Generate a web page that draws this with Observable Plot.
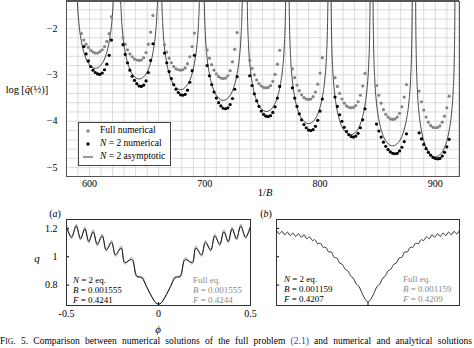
<!DOCTYPE html>
<html><head><meta charset="utf-8">
<script src="https://cdn.jsdelivr.net/npm/d3@7"></script>
<script src="https://cdn.jsdelivr.net/npm/@observablehq/plot@0.6"></script>
<style>
html,body{margin:0;padding:0;background:#fff;}
#root{position:relative;width:474px;height:348px;overflow:hidden;font-family:"Liberation Serif","DejaVu Serif",serif;color:#000;}
#root svg{position:absolute;overflow:visible;font-family:"Liberation Serif",serif !important;}
#root svg g, #root svg text{font-family:"Liberation Serif",serif !important;font-variant:normal !important;}
.t{position:absolute;white-space:nowrap;line-height:1;}
.c{transform:translate(-50%,-50%);}
.l{transform:translate(0,-50%);}
i{font-style:italic;}
</style></head><body><div id="root"></div>
<script>
// ---------- top panel: log q(1/2) vs 1/B ----------
const xTicks = [600, 700, 800, 900];
const yTicks = [-5, -4, -3, -2];
// asymptotic (N = 2) branches, one array per branch
const asymX = [
  [587.8,588,588.5,589.5,591,593,596,600,605,610,614,617,619,620.5,621.5,622,622.2],
  [625.8,626,626.5,627.5,629,631,634,638,643,648,652,655,657,658.5,659.5,660,660.2],
  [661.8,662,662.5,663.5,665,667,670,674,679,684,688,691,693,694.5,695.5,696,696.2],
  [698.8,699,699.5,700.5,702,704,707,711,716,721,725,728,730,731.5,732.5,733,733.2],
  [736.3,736.5,737,738,739.5,741.5,744.5,748.5,753.5,758.5,762.5,765.5,767.5,769,770,770.5,770.7],
  [772.8,773,773.5,774.5,776,778,781,785,790,795,799,802,804,805.5,806.5,807,807.2],
  [809.3,809.5,810,811,812.5,814.5,817.5,821.5,826.5,831.5,835.5,838.5,840.5,842,843,843.5,843.7],
  [845.8,846,846.5,847.5,849,851,854,858,863,868,872,875,877,878.5,879.5,880,880.2],
  [882.8,883,883.5,884.5,886,888,891,895,900,905,909,912,914,915.5,916.5,917,917.2]
];
const asymY = [
  [1.64,0.34,-0.71,-1.44,-1.94,-2.29,-2.59,-2.785,-2.86,-2.785,-2.59,-2.29,-1.94,-1.44,-0.71,0.34,1.64],
  [1.41,0.11,-0.94,-1.67,-2.17,-2.52,-2.82,-3.015,-3.09,-3.015,-2.82,-2.52,-2.17,-1.67,-0.94,0.11,1.41],
  [1.18,-0.12,-1.17,-1.90,-2.40,-2.75,-3.05,-3.245,-3.32,-3.245,-3.05,-2.75,-2.40,-1.90,-1.17,-0.12,1.18],
  [0.95,-0.35,-1.40,-2.13,-2.63,-2.98,-3.28,-3.475,-3.55,-3.475,-3.28,-2.98,-2.63,-2.13,-1.40,-0.35,0.95],
  [0.71,-0.59,-1.64,-2.37,-2.87,-3.22,-3.52,-3.715,-3.79,-3.715,-3.52,-3.22,-2.87,-2.37,-1.64,-0.59,0.71],
  [0.45,-0.85,-1.90,-2.63,-3.13,-3.48,-3.78,-3.975,-4.05,-3.975,-3.78,-3.48,-3.13,-2.63,-1.90,-0.85,0.45],
  [0.21,-1.09,-2.14,-2.87,-3.37,-3.72,-4.02,-4.215,-4.29,-4.215,-4.02,-3.72,-3.37,-2.87,-2.14,-1.09,0.21],
  [-0.03,-1.33,-2.38,-3.11,-3.61,-3.96,-4.26,-4.455,-4.53,-4.455,-4.26,-3.96,-3.61,-3.11,-2.38,-1.33,-0.03],
  [-0.27,-1.57,-2.62,-3.35,-3.85,-4.20,-4.50,-4.695,-4.77,-4.695,-4.50,-4.20,-3.85,-3.35,-2.62,-1.57,-0.27]
];
// numerical points: shared 1/B positions per branch
const dotX = [
  [593,595,597,599,601,603,605,607,609,611,613,615,617,619],
  [629,631,633,635,637,639,641,643,645,647,649,651,653,655],
  [665,667,669,671,673,675,677,679,681,683,685,687,689,691],
  [702,704,706,708,710,712,714,716,718,720,722,724,726,728],
  [739,741,743,745,747,749,751,753,755,757,759,761,763,765],
  [776,778,780,782,784,786,788,790,792,794,796,798,800,802],
  [813,815,817,819,821,823,825,827,829,831,833,835,837,839],
  [849,851,853,855,857,859,861,863,865,867,869,871,873,875],
  [886,888,890,892,894,896,898,900,902,904,906,908,910,912]
];
const fullY = [
  [-2.11,-2.25,-2.34,-2.41,-2.47,-2.51,-2.53,-2.53,-2.50,-2.46,-2.39,-2.28,-2.11,-1.75],
  [-2.20,-2.34,-2.46,-2.55,-2.61,-2.66,-2.68,-2.69,-2.68,-2.63,-2.52,-2.34,-2.08,-1.72],
  [-2.35,-2.51,-2.64,-2.74,-2.82,-2.87,-2.89,-2.90,-2.89,-2.85,-2.76,-2.61,-2.39,-2.10],
  [-2.46,-2.64,-2.78,-2.90,-2.98,-3.04,-3.07,-3.08,-3.07,-3.02,-2.91,-2.72,-2.45,-2.09],
  [-2.69,-2.86,-3.00,-3.11,-3.19,-3.24,-3.27,-3.28,-3.27,-3.23,-3.14,-2.99,-2.77,-2.47],
  [-2.87,-3.06,-3.22,-3.34,-3.43,-3.49,-3.52,-3.53,-3.52,-3.47,-3.37,-3.20,-2.96,-2.63],
  [-3.06,-3.25,-3.40,-3.52,-3.61,-3.67,-3.70,-3.71,-3.70,-3.66,-3.58,-3.44,-3.24,-2.97],
  [-3.23,-3.44,-3.61,-3.75,-3.85,-3.91,-3.95,-3.96,-3.95,-3.91,-3.83,-3.69,-3.48,-3.21],
  [-3.35,-3.58,-3.76,-3.91,-4.02,-4.09,-4.13,-4.14,-4.13,-4.10,-4.02,-3.89,-3.71,-3.46]
];
const n2Y = [
  [null,-2.39,-2.55,-2.70,-2.82,-2.90,-2.95,-2.98,-2.99,-2.96,-2.89,-2.77,-2.58,-2.25],
  [-2.35,-2.56,-2.74,-2.90,-3.03,-3.12,-3.19,-3.24,-3.25,-3.22,-3.13,-2.95,-2.69,-2.33],
  [-2.53,-2.74,-2.93,-3.08,-3.21,-3.31,-3.38,-3.43,-3.44,-3.42,-3.33,-3.16,-2.91,-2.58],
  [-2.80,-3.02,-3.21,-3.37,-3.50,-3.60,-3.67,-3.72,-3.73,-3.71,-3.64,-3.51,-3.31,-3.04],
  [-3.02,-3.23,-3.41,-3.56,-3.68,-3.78,-3.85,-3.89,-3.90,-3.88,-3.81,-3.69,-3.50,-3.25],
  [-3.28,-3.50,-3.68,-3.84,-3.97,-4.07,-4.14,-4.19,-4.20,-4.18,-4.11,-3.98,-3.78,-3.52],
  [-3.48,-3.68,-3.86,-4.00,-4.13,-4.22,-4.29,-4.33,-4.34,-4.32,-4.26,-4.14,-3.97,-3.73],
  [-4.06,-4.21,-4.34,-4.45,-4.54,-4.61,-4.66,-4.69,-4.70,-4.69,-4.64,-4.56,-4.44,-4.27],
  [-4.25,-4.38,-4.50,-4.59,-4.67,-4.73,-4.78,-4.80,-4.81,-4.80,-4.75,-4.67,-4.55,-4.39]
];

// ---------- bottom panels: q(phi) ----------
const qTicks = [0.8, 1, 1.2];
const phiTicks = [-0.5, 0, 0.5];
const phiA = [-0.5,-0.473,-0.447,-0.424,-0.4,-0.379,-0.355,-0.333,-0.306,-0.284,-0.255,-0.234,-0.203,-0.183,-0.145,-0.118,-0.09,-0.065,-0.035,-0.015,0,
  0.015,0.035,0.065,0.09,0.118,0.145,0.183,0.203,0.234,0.255,0.284,0.306,0.333,0.355,0.379,0.4,0.424,0.447,0.473,0.5];
const qAn2 = [1.21,1.14,1.215,1.13,1.195,1.11,1.175,1.09,1.145,1.05,1.10,1.015,1.06,0.96,0.98,0.865,0.85,0.79,0.715,0.675,0.665,
  0.675,0.715,0.79,0.85,0.865,0.98,0.96,1.06,1.015,1.10,1.05,1.145,1.09,1.175,1.11,1.195,1.13,1.215,1.14,1.21];
const qAfull = [1.225,1.128,1.23,1.118,1.21,1.098,1.19,1.078,1.16,1.038,1.115,1.003,1.075,0.948,0.995,0.855,0.862,0.785,0.713,0.674,0.665,
  0.674,0.713,0.785,0.862,0.855,0.995,0.948,1.075,1.003,1.115,1.038,1.16,1.078,1.19,1.098,1.21,1.118,1.23,1.128,1.225];
const phiB = [-0.5,-0.485,-0.47,-0.455,-0.44,-0.425,-0.41,-0.395,-0.38,-0.365,-0.35,-0.335,-0.32,-0.305,-0.29,-0.275,-0.26,-0.245,-0.23,-0.215,-0.2,-0.185,-0.17,-0.155,-0.14,-0.125,-0.11,-0.095,-0.08,-0.065,-0.05,-0.03,-0.015,0,
  0.015,0.03,0.05,0.065,0.08,0.095,0.11,0.125,0.14,0.155,0.17,0.185,0.2,0.215,0.23,0.245,0.26,0.275,0.29,0.305,0.32,0.335,0.35,0.365,0.38,0.395,0.41,0.425,0.44,0.455,0.47,0.485,0.5];
const qB = [1.186,1.161,1.180,1.155,1.174,1.149,1.168,1.143,1.162,1.137,1.156,1.127,1.141,1.115,1.120,1.092,1.096,1.067,1.066,1.034,1.033,0.996,0.991,0.956,0.946,0.912,0.901,0.865,0.848,0.808,0.791,0.735,0.70,0.68,
  0.70,0.735,0.791,0.808,0.848,0.865,0.901,0.912,0.946,0.956,0.991,0.996,1.033,1.034,1.066,1.067,1.096,1.092,1.120,1.115,1.141,1.127,1.156,1.137,1.162,1.143,1.168,1.149,1.174,1.155,1.180,1.161,1.186];

// ---------- tables ----------
const asymT = asymX.flatMap((xs, u) => xs.map((x, i) => ({u, x, y: asymY[u][i]})));
const fullT = dotX.flatMap((xs, u) => xs.map((x, i) => ({u, x, y: fullY[u][i]})));
const n2T = dotX.flatMap((xs, u) => xs.map((x, i) => ({u, x, y: n2Y[u][i]}))).filter(d => d.y != null);
const aN2 = phiA.map((p, i) => ({p, q: qAn2[i]}));
const aFull = phiA.map((p, i) => ({p, q: qAfull[i]}));
const bN2 = phiB.map((p, i) => ({p, q: qB[i]}));

const root = document.getElementById("root");
const baseStyle = "background: transparent; font-family: 'Liberation Serif', serif; font-size: 10px; overflow: visible;";
function place(svg, left, top) { svg.style.position = "absolute"; svg.style.left = left + "px"; svg.style.top = top + "px"; root.appendChild(svg); }

const gridXv = d3.range(580, 921, 10);
const gridYv = d3.range(-26, -7).map(i => i / 5).filter(v => v >= -5.19 && v <= -1.42);

const topPlot = Plot.plot({
  width: 474, height: 200,
  marginLeft: 66, marginRight: 15, marginTop: 1, marginBottom: 24,
  x: {domain: [580, 921]},
  y: {domain: [-5.19, -1.42]},
  style: baseStyle,
  marks: [
    Plot.gridX(gridXv, {stroke: "#d2d2d2", strokeOpacity: 1, strokeWidth: 0.8}),
    Plot.gridY(gridYv, {stroke: "#d2d2d2", strokeOpacity: 1, strokeWidth: 0.8}),
    Plot.axisX({ticks: xTicks, tickSize: 0, tickPadding: 3, tickFormat: d => String(d), label: null}),
    Plot.axisY({ticks: yTicks, tickSize: 0, tickPadding: 9, tickFormat: d => "\u2212" + Math.abs(d), label: null}),
    Plot.line(asymT, {x: "x", y: "y", z: "u", stroke: "#333", strokeWidth: 0.9, curve: "monotone-x", clip: true}),
    Plot.dot(fullT, {x: "x", y: "y", r: 1.6, fill: "#858585", stroke: null}),
    Plot.dot(n2T, {x: "x", y: "y", r: 1.6, fill: "#000", stroke: null}),
    Plot.frame({stroke: "#555"})
  ]
});
place(topPlot, 0, 0);

const pa = Plot.plot({
  width: 260, height: 140,
  marginLeft: 66, marginRight: 10, marginTop: 14, marginBottom: 40,
  x: {domain: [-0.5, 0.5]},
  y: {domain: [0.656, 1.263]},
  style: baseStyle,
  marks: [
    Plot.axisX({ticks: phiTicks, tickSize: 0, tickPadding: 4, tickFormat: d => String(d), label: null}),
    Plot.axisY({ticks: qTicks, tickSize: 0, tickPadding: 9, tickFormat: d => String(d), label: null}),
    Plot.axisX({ticks: phiTicks, tickSize: -3, tickFormat: () => "", label: null}),
    Plot.axisY({ticks: qTicks, tickSize: -3, tickFormat: () => "", label: null}),
    Plot.line(aFull, {x: "p", y: "q", stroke: "#9a9a9a", strokeWidth: 1, curve: "catmull-rom"}),
    Plot.line(aN2, {x: "p", y: "q", stroke: "#111", strokeWidth: 1, curve: "catmull-rom"}),
    Plot.frame({stroke: "#333"})
  ]
});
place(pa, 0, 205);

const pb = Plot.plot({
  width: 208, height: 140,
  marginLeft: 10, marginRight: 15, marginTop: 14, marginBottom: 40,
  x: {domain: [-0.5, 0.5]},
  y: {domain: [0.656, 1.263]},
  style: baseStyle,
  marks: [
    Plot.axisX({ticks: phiTicks, tickSize: -3, tickFormat: () => "", label: null}),
    Plot.axisY({ticks: qTicks, tickSize: -3, tickFormat: () => "", label: null}),
    Plot.line(bN2, {x: "p", y: "q", stroke: "#333", strokeWidth: 1, curve: "catmull-rom"}),
    Plot.frame({stroke: "#333"})
  ]
});
place(pb, 266, 205);

// ---------- texts, legend ----------
function txt(html, x, y, cls, size, color) {
  const d = document.createElement("div");
  d.className = "t " + cls;
  d.style.left = x + "px"; d.style.top = y + "px";
  d.style.fontSize = (size || 10) + "px";
  if (color) d.style.color = color;
  d.innerHTML = html;
  root.appendChild(d);
  return d;
}
// thick top border of upper panel
const tb = document.createElement("div");
tb.style.cssText = "position:absolute;left:66px;top:0;width:393px;height:2px;background:#555;";
root.appendChild(tb);

txt("log&thinsp;[<i>q&#772;</i>(&frac12;)]", 27, 90, "c", 10.5);
txt("1/<i>B</i>", 265, 193, "c", 10.5);
txt("<i>q</i>", 37, 258, "c", 11);
txt("<i>&#981;</i>", 158, 329, "c", 11);
txt("(<i>a</i>)", 55, 214, "c", 10);
txt("(<i>b</i>)", 266, 214, "c", 10);

// annotations panel a
txt("<i>N</i> = 2 eq.", 73, 280, "l", 9);
txt("<i>B</i> = 0.001555", 73, 290, "l", 9);
txt("<i>F</i> = 0.4241", 73, 299.5, "l", 9);
txt("Full eq.", 193, 280, "l", 9, "#8a8a8a");
txt("<i>B</i> = 0.001555", 193, 290, "l", 9, "#8a8a8a");
txt("<i>F</i> = 0.4244", 193, 299.5, "l", 9, "#8a8a8a");
// annotations panel b
txt("<i>N</i> = 2 eq.", 284, 279, "l", 9);
txt("<i>B</i> = 0.001159", 284, 289, "l", 9);
txt("<i>F</i> = 0.4207", 284, 299, "l", 9);
txt("Full eq.", 403, 279, "l", 9, "#8a8a8a");
txt("<i>B</i> = 0.001159", 403, 289, "l", 9, "#8a8a8a");
txt("<i>F</i> = 0.4209", 403, 299, "l", 9, "#8a8a8a");

// legend
const lg = document.createElement("div");
lg.style.cssText = "position:absolute;left:78px;top:122px;width:91px;height:42px;border:1px solid #444;background:#fff;";
root.appendChild(lg);
const lsvg = d3.create("svg").attr("width", 474).attr("height", 200).style("left", "0px").style("top", "0px");
lsvg.append("circle").attr("cx", 88).attr("cy", 131).attr("r", 1.7).attr("fill", "#858585");
lsvg.append("circle").attr("cx", 88).attr("cy", 144).attr("r", 1.7).attr("fill", "#000");
lsvg.append("line").attr("x1", 83).attr("x2", 93).attr("y1", 157).attr("y2", 157).attr("stroke", "#333").attr("stroke-width", 1);
root.appendChild(lsvg.node());
txt("Full numerical", 100, 131, "l", 9.5);
txt("<i>N</i> = 2 numerical", 100, 144, "l", 9.5);
txt("<i>N</i> = 2 asymptotic", 100, 157, "l", 9.5);

// caption (at the image bottom)
const cap = txt("F<span style='font-size:7.5px'>IG</span>. 5. Comparison between numerical solutions of the full problem <span style='color:#3a3acc'>(2.1)</span> and numerical and analytical solutions", 0, 337, "", 9.5);
cap.style.width = "472px";
cap.style.textAlign = "justify";
cap.style.textAlignLast = "justify";
</script></body></html>
